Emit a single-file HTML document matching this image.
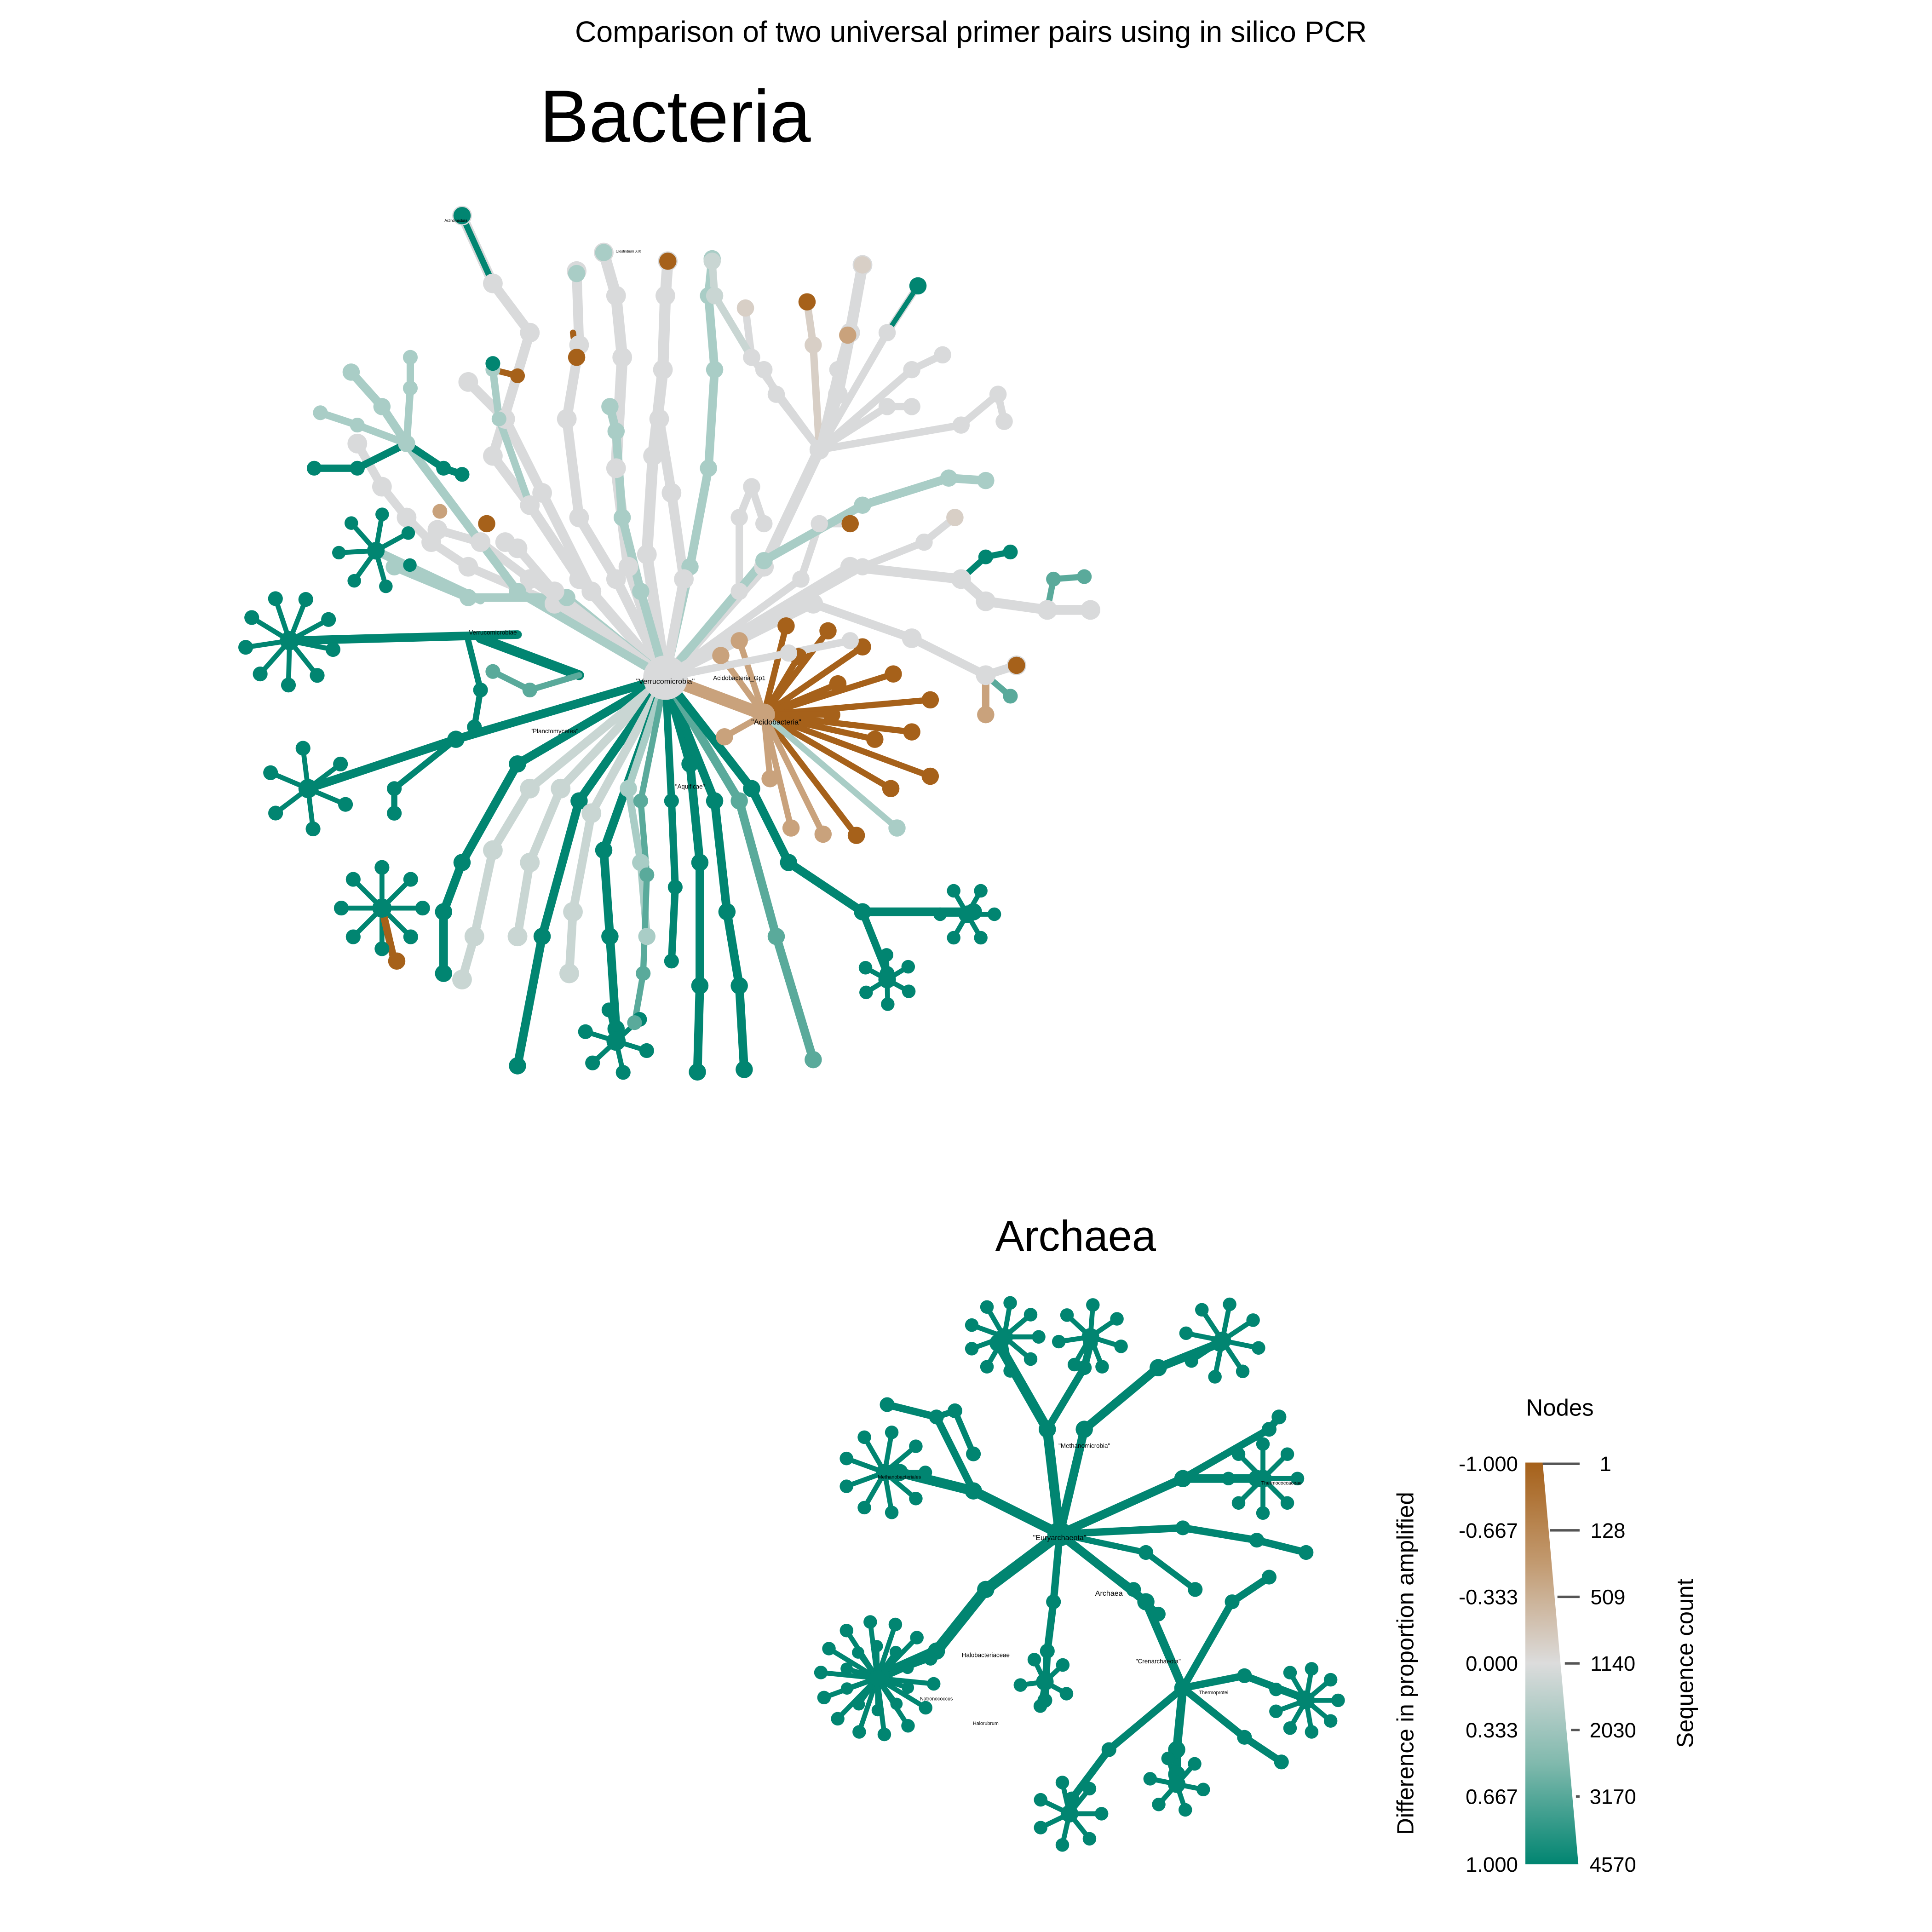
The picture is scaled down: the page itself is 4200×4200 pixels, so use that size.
<!DOCTYPE html>
<html><head><meta charset="utf-8"><style>
html,body{margin:0;padding:0;background:#fff;}
svg{display:block;}
text{font-family:"Liberation Sans",sans-serif;}
</style></head><body>
<svg id="s" width="4200" height="4200" viewBox="0 0 1568 1568" xmlns="http://www.w3.org/2000/svg">
<defs>
<linearGradient id="g" x1="0" y1="0" x2="0" y2="1">
<stop offset="0" stop-color="#a6611a"/><stop offset="0.25" stop-color="#c29a70"/>
<stop offset="0.5" stop-color="#dcdcdc"/><stop offset="0.75" stop-color="#80b9ad"/>
<stop offset="1" stop-color="#018571"/></linearGradient>
</defs>
<text x="788" y="34" font-size="24" text-anchor="middle">Comparison of two universal primer pairs using in silico PCR</text>
<text x="548" y="115" font-size="60" text-anchor="middle">Bacteria</text>
<text x="873" y="1015" font-size="35" text-anchor="middle">Archaea</text>
<g id="tree"></g>
<!-- legend -->
<text x="1266" y="1149" font-size="19" text-anchor="middle">Nodes</text>
<polygon points="1238,1187 1252,1187 1281,1513 1238,1513" fill="url(#g)"/>
<g stroke="#555" stroke-width="2">
<line x1="1252" y1="1188" x2="1282" y2="1188"/><line x1="1258" y1="1242" x2="1282" y2="1242"/>
<line x1="1264" y1="1296" x2="1282" y2="1296"/><line x1="1270" y1="1350" x2="1282" y2="1350"/>
<line x1="1275" y1="1404" x2="1282" y2="1404"/><line x1="1279" y1="1458" x2="1282" y2="1458"/>
</g>
<g font-size="17" text-anchor="end">
<text x="1232" y="1194">-1.000</text><text x="1232" y="1248">-0.667</text><text x="1232" y="1302">-0.333</text>
<text x="1232" y="1356">0.000</text><text x="1232" y="1410">0.333</text><text x="1232" y="1464">0.667</text><text x="1232" y="1519">1.000</text>
</g>
<g font-size="17" text-anchor="middle">
<text x="1303" y="1194">1</text><text x="1305" y="1248">128</text><text x="1305" y="1302">509</text>
<text x="1309" y="1356">1140</text><text x="1309" y="1410">2030</text><text x="1309" y="1464">3170</text><text x="1309" y="1519">4570</text>
</g>
<text transform="translate(1147,1350) rotate(-90)" font-size="19" text-anchor="middle">Difference in proportion amplified</text>
<text transform="translate(1374,1350) rotate(-90)" font-size="19" text-anchor="middle">Sequence count</text>
</svg>
<script>
var T=document.getElementById('tree'),NS='http://www.w3.org/2000/svg';
var C={g:'#d9dadb',t:'#018571',b:'#a6611a',lt:'#a9cdc6',mt:'#5aaa9b',tn:'#c9a27c',lg:'#c9d6d3',wt:'#d8cfc6'};
var edges=[],nodes=[],labels=[];
function E(x1,y1,x2,y2,w,c){edges.push([x1,y1,x2,y2,w,C[c]||c]);}
function N(x,y,r,c){nodes.push([x,y,r,C[c]||c]);}
function path(pts,w,c,rr){for(var i=0;i<pts.length-1;i++){E(pts[i][0],pts[i][1],pts[i+1][0],pts[i+1][1],w,c);}for(var i=1;i<pts.length;i++){N(pts[i][0],pts[i][1],rr||w*0.9,c);}}
function star(cx,cy,n,R,c,w,r,a0){for(var i=0;i<n;i++){var a=(a0||0)+i*2*Math.PI/n;var x=cx+R*Math.cos(a),y=cy+R*Math.sin(a);E(cx,cy,x,y,w,c);N(x,y,r,c);}N(cx,cy,r*1.3,c);}
var bx=540,by=550;
path([[bx,by],[470,470],[430,410],[400,370],[430,270],[400,230],[375,175]],8,'g',8);N(375,175,7,'t');E(400,230,375,175,5,'t');
path([[bx,by],[480,480],[440,400],[410,340],[380,310]],8,'g',8);
path([[bx,by],[500,470],[470,420],[460,340],[470,280],[468,220]],8,'g',8);
path([[bx,by],[510,460],[500,380],[505,290],[500,240],[490,205]],9,'g',8);
path([[bx,by],[525,450],[530,370],[538,300],[540,240],[542,212]],9,'g',8);N(542,212,7,'b');N(490,205,7,'lt');N(468,222,7,'lt');N(468,290,7,'b');E(468,290,465,270,5,'b');
path([[bx,by],[560,460],[575,380],[580,300],[575,240],[578,210]],7,'lt',7);
path([[bx,by],[555,470],[545,400],[535,340]],8,'g',8);
path([[bx,by],[520,480],[505,420],[500,350],[495,330]],7,'lt',7);
path([[bx,by],[450,490],[380,460],[350,440],[330,420],[310,395],[290,360]],7,'g',8);
path([[bx,by],[460,485],[380,485],[320,460]],7,'lt',7);
path([[bx,by],[430,470],[390,440],[355,430]],7,'g',8);N(357,415,6,'tn');N(395,425,7,'b');
path([[bx,by],[450,480],[420,445],[410,440]],7,'g',8);
path([[430,410],[405,340],[400,300]],6,'lt',6);path([[400,300],[420,305]],5,'b',6);N(400,295,6,'t');
path([[bx,by],[420,480],[330,360],[310,330],[285,302]],7,'lt',7);path([[330,360],[333,315],[333,290]],6,'lt',6);
path([[330,360],[290,345],[260,335]],6,'lt',6);path([[330,360],[290,380],[255,380]],6,'t',6);path([[330,360],[360,380],[375,385]],6,'t',6);
star(305,447,7,30,'t',4,5.5,-0.5);E(305,447,390,487,7,'lt');
star(235,520,9,36,'t',4,6,0.2);E(235,520,420,515,7,'t');E(390,518,470,548,8,'t');
path([[380,520],[390,560],[385,590]],5,'t',6);path([[470,548],[430,560],[400,545]],5,'mt',6);
star(250,640,6,33,'t',4,6,0.4);path([[bx,by],[370,600],[250,640]],7,'t',7);path([[370,600],[320,640],[320,660]],5,'t',6);
star(310,737,8,33,'t',4,6,0);E(310,737,320,780,6,'b');N(322,780,7,'b');
path([[bx,by],[420,620],[375,700],[360,740],[360,790]],7,'t',7);
path([[bx,by],[430,640],[400,690],[385,760],[375,795]],7,'lg',8);
path([[bx,by],[455,640],[430,700],[420,760]],7,'lg',8);
path([[bx,by],[470,650],[440,760],[420,865]],7,'t',7);
path([[bx,by],[480,660],[465,740],[462,790]],7,'lg',8);
path([[bx,by],[490,690],[495,760],[500,835]],7,'t',7);star(500,845,6,26,'t',4,6,0.3);
path([[bx,by],[510,640],[520,700],[525,760]],6,'lt',7);
path([[bx,by],[520,650],[525,710],[522,790],[515,830]],5,'mt',6);
path([[bx,by],[560,620],[568,700],[568,800],[566,870]],7,'t',7);
path([[bx,by],[545,650],[548,720],[545,780]],6,'t',6);
path([[bx,by],[580,650],[590,740],[600,800],[604,868]],7,'t',7);
path([[bx,by],[600,650],[630,760],[660,860]],7,'mt',7);
path([[bx,by],[610,640],[640,700],[700,740],[790,740]],7,'t',7);star(785,742,6,22,'t',4,5.5,0);
path([[700,740],[720,790]],6,'t',6);star(720,795,6,20,'t',4,5.5,0.5);
E(bx,by,620,580,10,'tn');N(620,580,9,'tn');
var ac=[[638,508,'b'],[648,533,'b'],[672,512,'b'],[700,525,'b'],[725,547,'b'],[755,568,'b'],[740,594,'b'],[755,630,'b'],[723,640,'b'],[695,678,'b'],[668,677,'tn'],[642,672,'tn'],[625,632,'tn'],[588,598,'tn'],[585,532,'tn'],[600,520,'tn'],[675,580,'b'],[680,555,'b'],[728,672,'lt'],[710,600,'b']];
ac.forEach(function(a){E(620,580,a[0],a[1],5,a[2]);N(a[0],a[1],7,a[2]);});
path([[bx,by],[620,460],[665,365],[680,320],[690,270],[700,215]],9,'g',8);N(700,215,7,'wt');
path([[665,365],[720,270],[745,232]],6,'g',7);N(745,232,7,'t');E(720,270,745,232,4,'t');
path([[665,365],[610,290],[605,250]],6,'g',7);N(605,250,7,'wt');path([[610,290],[580,240],[578,212]],6,'lg',7);
path([[665,365],[660,280],[655,245]],6,'wt',7);N(655,245,7,'b');
path([[665,365],[680,300],[688,272]],6,'g',7);N(688,272,7,'tn');
path([[665,365],[740,300],[765,288]],6,'g',7);path([[665,365],[780,345],[810,320],[815,342]],6,'g',7);
path([[665,365],[720,330],[740,330]],6,'g',7);
path([[665,365],[630,320],[620,300]],6,'g',7);
path([[bx,by],[600,480],[600,420],[610,395],[620,425]],6,'g',7);
path([[bx,by],[650,470],[665,425],[690,425]],6,'g',7);N(690,425,7,'b');
path([[bx,by],[620,455],[700,410],[770,388],[800,390]],7,'lt',7);
path([[bx,by],[700,460],[750,440],[775,420]],6,'g',7);N(775,420,7,'wt');
path([[bx,by],[690,460],[780,470],[800,488],[850,495],[885,495]],8,'g',8);
path([[850,495],[855,470],[880,468]],5,'mt',6);path([[780,470],[800,452],[820,448]],5,'t',6);
path([[bx,by],[660,490],[740,518],[800,548],[825,540]],7,'g',8);N(825,540,7,'b');
path([[800,548],[800,580]],6,'tn',7);path([[800,548],[820,565]],5,'mt',6);
path([[bx,by],[640,530],[690,520]],6,'g',7);
N(bx,by,18,'g');
var ax=860,ay=1245;
path([[ax,ay],[850,1160],[810,1090]],8,'t',7);star(815,1085,9,28,'t',4,5.5,0);
path([[850,1160],[880,1110],[885,1090]],6,'t',6);star(885,1085,7,26,'t',4,5.5,0.3);
path([[ax,ay],[880,1160],[940,1110],[990,1090]],7,'t',7);star(992,1088,8,30,'t',4,5.5,0.2);
path([[ax,ay],[790,1210],[730,1195]],8,'t',7);star(718,1195,9,33,'t',4,5.5,0);
path([[790,1210],[760,1150],[720,1140]],6,'t',6);path([[760,1150],[775,1145],[790,1180]],5,'t',6);
path([[ax,ay],[800,1290],[760,1340],[715,1360]],9,'t',7);star(712,1362,14,46,'t',4,5.5,0.1);star(712,1362,10,26,'t',4,5,0.3);
path([[ax,ay],[855,1300],[850,1340],[848,1380]],6,'t',6);star(848,1365,5,20,'t',4,5.5,0.5);
path([[ax,ay],[930,1300],[960,1370],[955,1420],[955,1440]],7,'t',7);star(955,1448,6,22,'t',4,5.5,0.2);
path([[960,1370],[900,1420],[870,1460]],6,'t',6);star(868,1472,7,26,'t',4,5.5,0);
path([[960,1370],[1010,1360],[1058,1378]],6,'t',6);star(1060,1380,9,26,'t',4,5.5,0);
path([[960,1370],[1010,1410],[1040,1430]],6,'t',6);path([[960,1370],[1000,1300],[1030,1280]],6,'t',6);
path([[ax,ay],[960,1200],[1020,1200]],7,'t',7);star(1025,1200,8,28,'t',4,5.5,0);
path([[960,1200],[1030,1160],[1038,1150]],6,'t',6);path([[ax,ay],[960,1240],[1020,1250],[1060,1260]],6,'t',6);
path([[ax,ay],[930,1260],[970,1290]],5,'t',6);path([[ax,ay],[920,1290],[940,1310]],5,'t',6);
N(ax,ay,10,'t');
edges.forEach(function(e){var l=document.createElementNS(NS,'line');l.setAttribute('x1',e[0]);l.setAttribute('y1',e[1]);l.setAttribute('x2',e[2]);l.setAttribute('y2',e[3]);l.setAttribute('stroke',e[5]);l.setAttribute('stroke-width',e[4]);l.setAttribute('stroke-linecap','round');T.appendChild(l);});
nodes.forEach(function(n){var c=document.createElementNS(NS,'circle');c.setAttribute('cx',n[0]);c.setAttribute('cy',n[1]);c.setAttribute('r',n[2]);c.setAttribute('fill',n[3]);T.appendChild(c);});
var lab=[[540,555,'"Verrucomicrobia"',6],[630,588,'"Acidobacteria"',6],[600,552,'Acidobacteria_Gp1',5],[560,640,'"Aquificae"',5],[450,595,'"Planctomycetes"',5],[400,515,'Verrucomicrobiae',5],[370,180,'Actinomadura',3],[510,205,'Clostridium XIX',3],[860,1250,'"Euryarchaeota"',6],[900,1295,'Archaea',6],[880,1175,'"Methanomicrobia"',5],[800,1345,'Halobacteriaceae',5],[940,1350,'"Crenarchaeota"',5],[800,1400,'Halorubrum',4],[760,1380,'Natronococcus',4],[985,1375,'Thermoprotei',4],[730,1200,'Methanobacteriales',4],[1040,1205,'Thermococcaceae',4]];
lab.forEach(function(a){var t=document.createElementNS(NS,'text');t.setAttribute('x',a[0]);t.setAttribute('y',a[1]);t.setAttribute('font-size',a[3]);t.setAttribute('text-anchor','middle');t.textContent=a[2];T.appendChild(t);});
</script>
</body></html>
